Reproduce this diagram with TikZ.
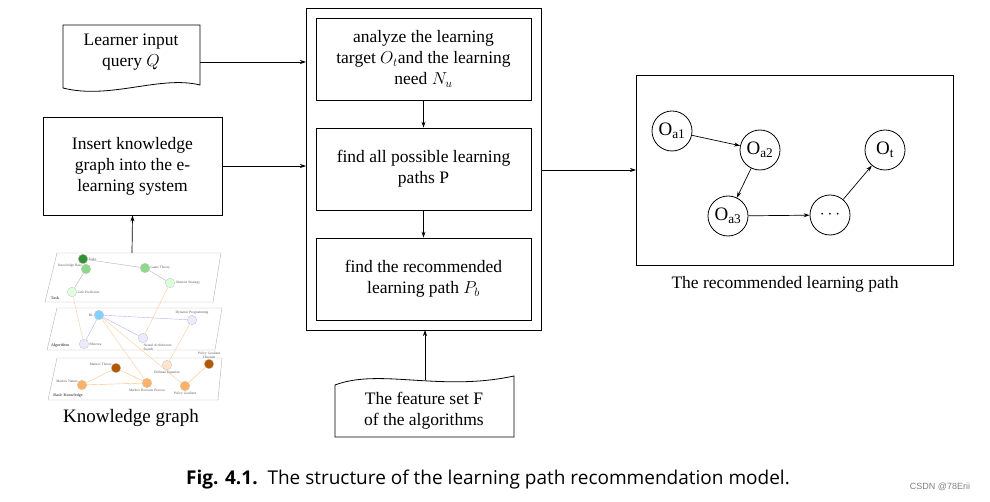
\documentclass[tikz,border=0pt]{standalone}
\usepackage{fontspec}
\setmainfont{Liberation Serif}
\newfontfamily\capfont{Open Sans}
\newfontfamily\wmfont{Liberation Sans}
\usetikzlibrary{arrows.meta}
\begin{document}
\begin{tikzpicture}[x=1pt,y=-1pt,
  txt/.style={font=\fontsize{17.5}{21}\selectfont,align=center},
  box/.style={draw,line width=0.8pt},
  arr/.style={-{Stealth[length=6pt,width=4pt]},line width=0.7pt},
  st/.style={draw,line width=0.8pt,circle,minimum size=40pt,inner sep=0pt,font=\fontsize{19}{22}\selectfont},
  lay/.style={draw=gray!60,line width=0.4pt,fill=white},
  kn/.style={circle,draw=gray!50,line width=0.3pt,minimum size=9.5pt,inner sep=0pt},
  kl/.style={font=\fontsize{3.5}{4}\selectfont,text=gray!70!black,inner sep=0.5pt},
  ke/.style={line width=0.4pt}]
\useasboundingbox (0,0) rectangle (990,502);
% Learner input document
\draw[box] (63,25) -- (200,25) -- (200,85) .. controls (160,75) and (110,100) .. (63,88) -- cycle;
\node[txt] (lq) at (131,52) {Learner input\\query $Q$};
\coordinate (lqr) at (200,62);
% Insert box
\node[box,txt,minimum width=179pt,minimum height=98pt] (ins) at (132.5,166) {Insert knowledge\\graph into the e-\\learning system};
% middle
\draw[box] (306,8) rectangle (541,330);
\node[box,txt,minimum width=215pt,minimum height=82pt] (b1) at (423.5,59) {analyze the learning\\target $O_t$and the learning\\need $N_u$};
\node[box,txt,minimum width=215pt,minimum height=82pt] (b2) at (423.5,169) {find all possible learning\\paths P\vphantom{$P_b$}};
\node[box,txt,minimum width=215pt,minimum height=82pt] (b3) at (423.5,279) {find the recommended\\learning path $P_b$};
\draw[arr] (b1) -- (b2);
\draw[arr] (b2) -- (b3);
\coordinate (ml) at (306,62);
\coordinate (ml2) at (306,166);
\coordinate (mr) at (541,170);
\coordinate (mb) at (425,330);
\draw[arr] (lqr) -- (ml);
\draw[arr] (ins.east) -- (ml2);
% feature set
\draw[box] (335,437) -- (335,385) .. controls (380,368) and (440,392) .. (514,376) -- (514,437) -- cycle;
\node[txt] (fs) at (424,411) {The feature set F\\of the algorithms};
\coordinate (fst) at (425,380);
\draw[arr] (fst) -- (mb);
% right box
\draw[box] (636,75) rectangle (953,265);
\coordinate (rl) at (636,170);
\draw[arr] (mr) -- (rl);
\node[st] (o1) at (672,131) {O$_{\mathrm{a1}}$};
\node[st] (o2) at (760,150) {O$_{\mathrm{a2}}$};
\node[st] (o3) at (728,216) {O$_{\mathrm{a3}}$};
\node[st] (od) at (830,215) {$\cdots$};
\node[st] (ot) at (885,150) {O$_{\mathrm{t}}$};
\draw[arr] (o1) -- (o2);
\draw[arr] (o2) -- (o3);
\draw[arr] (o3) -- (od);
\draw[arr] (od) -- (ot);
\node[txt] (rlab) at (785,284) {The recommended learning path};
% knowledge graph
\draw[lay] (57,253) -- (221,253) -- (213,302) -- (45,302) -- cycle;
\draw[lay] (57,308) -- (222,308) -- (215,350) -- (47,350) -- cycle;
\draw[lay] (57,358) -- (222,358) -- (218,400) -- (48,400) -- cycle;
\node[kl,font=\fontsize{4}{5}\bfseries] (lt) at (55,298) {Task};
\node[kl,font=\fontsize{4}{5}\bfseries] (la) at (60,346) {Algorithm};
\node[kl,font=\fontsize{4}{5}\bfseries] (lb) at (68,396) {Basic Knowledge};
\node[kn,fill=green!45!black!80] (k1) at (83,259) {};
\node[kn,fill=green!50!gray!60] (k2) at (86,269) {};
\node[kn,fill=green!50!gray!60] (k3) at (145,268) {};
\node[kn,fill=green!15] (k4) at (170,283) {};
\node[kn,fill=green!12] (k5) at (72,292) {};
\node[kn,fill=blue!35!cyan!50] (a1) at (99,315) {};
\node[kn,fill=blue!8] (a2) at (192,320) {};
\node[kn,fill=blue!8] (a3) at (84,344) {};
\node[kn,fill=blue!8] (a4) at (143,338) {};
\node[kn,fill=orange!70!black] (m1) at (116,368) {};
\node[kn,fill=orange!60] (m2) at (82,385) {};
\node[kn,fill=orange!60] (m3) at (147,383) {};
\node[kn,fill=orange!20] (m4) at (167,365) {};
\node[kn,fill=orange!70!black] (m5) at (209,364) {};
\node[kn,fill=orange!60] (m6) at (185,386) {};
\draw[ke,gray!60] (k1)--(k2) (k1)--(k3) (k3)--(k4) (k2)--(k5);
\draw[ke,orange!40] (k5)--(a3) (k4)--(a4);
\draw[ke,blue!30] (a1)--(a2) (a1)--(a3) (a1)--(a4);
\draw[ke,orange!40] (a1)--(m3) (a1)--(m6) (a2)--(m4);
\draw[ke,orange!50] (m1)--(m2) (m1)--(m3) (m3)--(m2) (m5)--(m6);
\node[kl,anchor=west] at (k1.east) {Tasks};
\node[kl,anchor=east] at (k2.north west) {Knowledge Base};
\node[kl,anchor=west] at (k3.east) {Game Theory};
\node[kl,anchor=west] at (k4.east) {Abstract Strategy};
\node[kl,anchor=west] at (k5.east) {Link Prediction};
\node[kl,anchor=east] at (a1.west) {RL};
\node[kl,anchor=south] at (a2.north) {Dynamic Programming};
\node[kl,anchor=west] at (a3.east) {Minerva};
\node[kl,anchor=north west,align=left] at (a4.south) {Neural Architecture\\Search};
\node[kl,anchor=east] at (m1.north west) {Markov Theory};
\node[kl,anchor=east] at (m2.north west) {Markov Nature};
\node[kl,anchor=north] at (m3.south) {Markov Decision Process};
\node[kl,anchor=north] at (m4.south) {Bellman Equation};
\node[kl,anchor=south,align=center] at (m5.north) {Policy Gradient\\Theorem};
\node[kl,anchor=north] at (m6.south) {Policy Gradient};
\coordinate (kgt) at (132,253);
\draw[arr] (kgt) -- (ins.south);
\node[txt,font=\fontsize{19}{22}\selectfont] (kgl) at (131,418) {Knowledge graph};
% caption
\node[font=\capfont\fontsize{19}{22}\selectfont] (cap) at (488,480) {\textbf{Fig. 4.1.}\ \ The structure of the learning path recommendation model.};
\node[font=\wmfont\fontsize{9}{10}\selectfont,text=gray] (wm) at (940,487) {CSDN @78Erii};
\end{tikzpicture}
\end{document}
